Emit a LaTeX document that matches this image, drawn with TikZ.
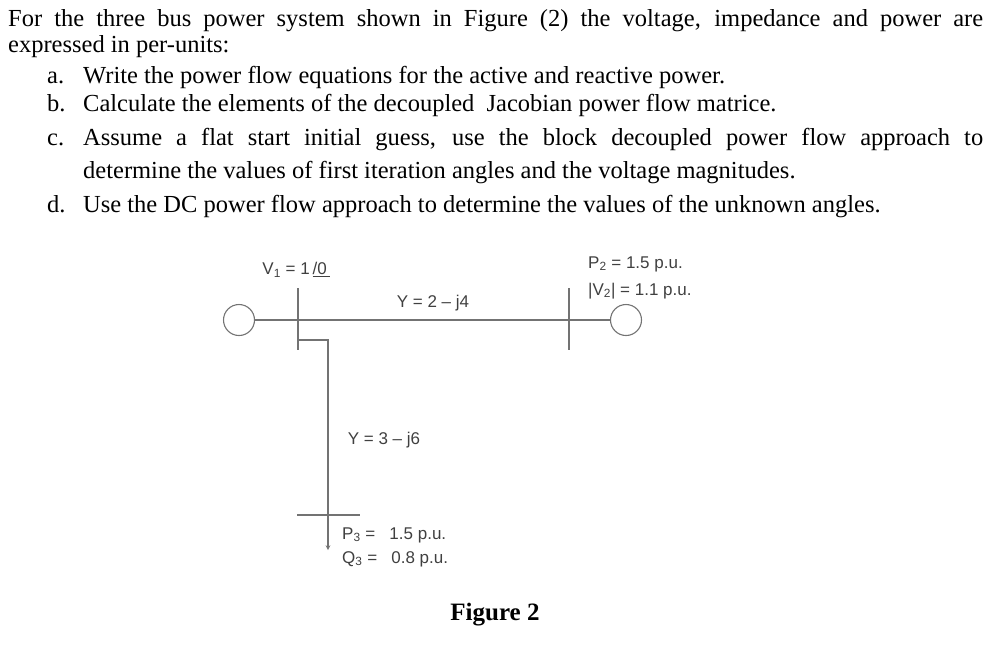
\documentclass[tikz,border=0pt]{standalone}
\usepackage{fontspec}
\setmainfont{Liberation Serif}
\setsansfont{Liberation Sans}
\usetikzlibrary{positioning}
\definecolor{linegray}{gray}{0.45}
\definecolor{labelgray}{gray}{0.25}
\tikzset{
  textline/.style={anchor=base west,inner sep=0pt,font=\fontsize{24.5}{28}\selectfont},
  label/.style={font=\sffamily\fontsize{17}{19}\selectfont,text=labelgray,inner sep=0pt},
  wire/.style={draw=linegray,line width=1.1pt},
  gen/.style={circle,draw=linegray,line width=1.1pt,minimum size=31pt,inner sep=0pt}
}
\newcommand{\jline}[1]{\makebox[900pt][s]{#1}}
\begin{document}
\begin{tikzpicture}[x=1pt,y=-1pt]
\useasboundingbox (0,0) rectangle (1000,649);
% Problem text
\node[textline] (l1) at (8,26) {\makebox[975pt][s]{For the three bus power system shown in Figure (2) the voltage, impedance and power are}};
\node[textline] (l2) at (8,52) {expressed in per-units:};
\node[textline] (ia) at (47,83) {a.};
\node[textline] (ta) at (83,83) {Write the power flow equations for the active and reactive power.};
\node[textline] (ib) at (47,111) {b.};
\node[textline] (tb) at (83,111) {Calculate the elements of the decoupled\ \ Jacobian power flow matrice.};
\node[textline] (ic) at (47,145) {c.};
\node[textline] (tc) at (83,145) {\jline{Assume a flat start initial guess, use the block decoupled power flow approach to}};
\node[textline] (tc2) at (83,178) {determine the values of first iteration angles and the voltage magnitudes.};
\node[textline] (id) at (47,212) {d.};
\node[textline] (td) at (83,212) {Use the DC power flow approach to determine the values of the unknown angles.};

% Buses and generators
\node[gen] (g1) at (239,320) {};
\node[gen] (g2) at (626,320) {};
\coordinate (b1t) at (298,288);
\coordinate (b1b) at (298,350);
\coordinate (b2t) at (569,288);
\coordinate (b2b) at (569,350);
\coordinate (b3l) at (297,515);
\coordinate (b3r) at (360,515);
\draw[wire] (b1t) -- (b1b);
\draw[wire] (b2t) -- (b2b);
\draw[wire] (b3l) -- (b3r);
\draw[wire] (g1.east) -- (g2.west);
% Line to bus 3 with load arrow
\coordinate (k1) at (298,340);
\coordinate (k2) at (328,340);
\coordinate (load) at (328,550);
\draw[wire,->,>=stealth] (k1) -- (k2) -- (load);

% Labels
\node[label] (v1) at (296,270) {V\textsubscript{1} = 1\,\underline{/0\,}};
\node[label] (y12) at (433,303) {Y = 2 -- j4};
\node[label] (y13) at (384,440) {Y = 3 -- j6};
\node[label,anchor=west] (p2) at (588,264) {P\textsubscript{2} = 1.5 p.u.};
\node[label,anchor=west] (v2) at (588,291) {|V\textsubscript{2}| = 1.1 p.u.};
\node[label,anchor=west] (p3) at (342,535) {P\textsubscript{3} =\ \ \ 1.5 p.u.};
\node[label,anchor=west] (q3) at (342,559) {Q\textsubscript{3} =\ \ \ 0.8 p.u.};
\node[font=\bfseries\fontsize{25}{28}\selectfont,inner sep=0pt] (fig) at (495,615) {Figure 2};
\end{tikzpicture}
\end{document}
